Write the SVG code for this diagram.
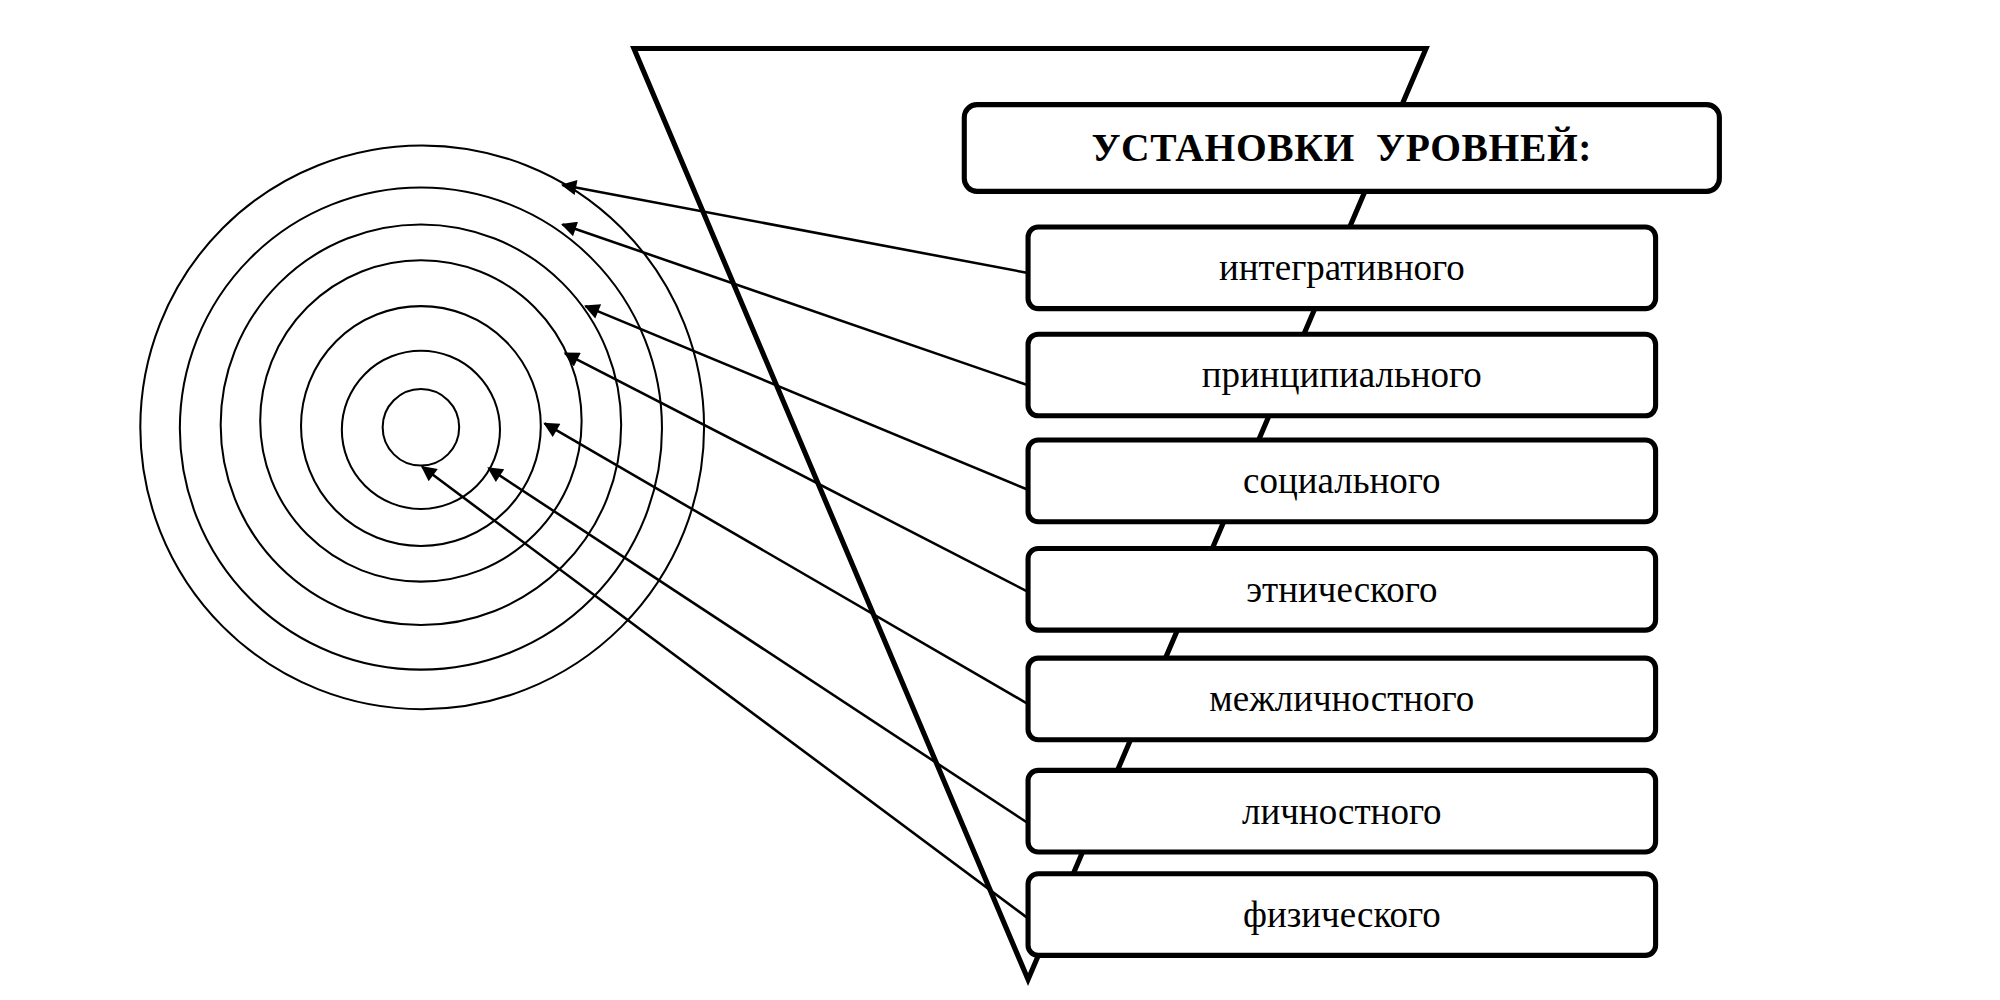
<svg xmlns="http://www.w3.org/2000/svg" width="2000" height="1000" viewBox="0 0 2000 1000">
<defs>
<marker id="ah" viewBox="0 0 10 10" refX="9" refY="5" markerWidth="16" markerHeight="12" markerUnits="userSpaceOnUse" orient="auto"><path d="M0,0 L10,5 L0,10 z" fill="#000"/></marker>
<style>
.box{fill:#fff;stroke:#000;stroke-width:4}
.t{font-family:"Liberation Serif",serif;font-size:29px;text-anchor:middle;dominant-baseline:central}
.h{font-weight:bold;font-size:31px;letter-spacing:0.5px}
.c{fill:none;stroke:#000;stroke-width:1.6}
.a{stroke:#000;stroke-width:2;fill:none}
</style>
</defs>
<rect width="2000" height="1000" fill="#fff"/>
<g transform="scale(1.2755)">
<g id="funnel"><polygon points="497,38 1118,38 806,768" fill="none" stroke="#000" stroke-width="4" stroke-linejoin="miter"/></g>
<g id="target">
<circle class="c" cx="330" cy="335" r="30"/>
<circle class="c" cx="330" cy="337" r="62"/>
<circle class="c" cx="330" cy="334" r="94"/>
<circle class="c" cx="330" cy="330" r="126"/>
<circle class="c" cx="330" cy="333" r="157"/>
<circle class="c" cx="330" cy="336" r="189"/>
<circle class="c" cx="331" cy="335" r="221"/>
</g>
<g id="connectors">
<line class="a" x1="806" y1="214" x2="441" y2="145" marker-end="url(#ah)"/>
<line class="a" x1="806" y1="302" x2="441" y2="176" marker-end="url(#ah)"/>
<line class="a" x1="806" y1="384" x2="459" y2="240" marker-end="url(#ah)"/>
<line class="a" x1="806" y1="464" x2="443" y2="277" marker-end="url(#ah)"/>
<line class="a" x1="806" y1="552" x2="427" y2="332" marker-end="url(#ah)"/>
<line class="a" x1="810" y1="648" x2="383" y2="367" marker-end="url(#ah)"/>
<line class="a" x1="806" y1="720" x2="331" y2="366" marker-end="url(#ah)"/>
</g>
<g id="header"><rect class="box" x="756" y="82" width="592" height="68" rx="10"/><text class="t h" x="1052" y="116" xml:space="preserve">УСТАНОВКИ  УРОВНЕЙ:</text></g>
<g id="n1"><rect class="box" x="806" y="178" width="492" height="64" rx="8"/><text class="t" x="1052" y="210">интегративного</text></g>
<g id="n2"><rect class="box" x="806" y="262" width="492" height="64" rx="8"/><text class="t" x="1052" y="294">принципиального</text></g>
<g id="n3"><rect class="box" x="806" y="345" width="492" height="64" rx="8"/><text class="t" x="1052" y="377">социального</text></g>
<g id="n4"><rect class="box" x="806" y="430" width="492" height="64" rx="8"/><text class="t" x="1052" y="462">этнического</text></g>
<g id="n5"><rect class="box" x="806" y="516" width="492" height="64" rx="8"/><text class="t" x="1052" y="548">межличностного</text></g>
<g id="n6"><rect class="box" x="806" y="604" width="492" height="64" rx="8"/><text class="t" x="1052" y="636">личностного</text></g>
<g id="n7"><rect class="box" x="806" y="685" width="492" height="64" rx="8"/><text class="t" x="1052" y="717">физического</text></g>
</g>
</svg>
